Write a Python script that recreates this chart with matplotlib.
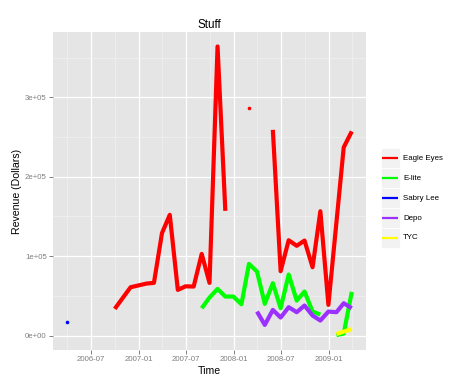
import matplotlib
matplotlib.use("Agg")
import matplotlib.pyplot as plt
import matplotlib.dates as mdates
from matplotlib.lines import Line2D
from matplotlib.patches import Rectangle
import numpy as np
import pandas as pd

plt.rcParams['font.family'] = ['Liberation Sans', 'DejaVu Sans']

# Data: month and revenue per series (None = missing month, breaks the line)
eagle_months = ["2006-09", "2006-11", "2007-01", "2007-02", "2007-03", "2007-04",
                "2007-05", "2007-06", "2007-07", "2007-08", "2007-09", "2007-10",
                "2007-11", "2007-12", "2008-02", "2008-03", "2008-05", "2008-06",
                "2008-07", "2008-08", "2008-09", "2008-10", "2008-11", "2008-12",
                "2009-02", "2009-03"]
eagle_values = [33600, 60800, 65500, 66300, 129000, 152000,
                57500, 62000, 61700, 102800, 66300, 364000,
                157000, None, 286000, None, 259000, 81000,
                120000, 113000, 119600, 86000, 156500, 38600,
                237000, 257000]

elite_months = ["2007-08", "2007-09", "2007-10", "2007-11", "2007-12", "2008-01",
                "2008-02", "2008-03", "2008-04", "2008-05", "2008-06", "2008-07",
                "2008-08", "2008-09", "2008-10", "2008-11", "2008-12", "2009-01",
                "2009-02", "2009-03"]
elite_values = [34400, 47800, 58700, 49100, 49100, 39400,
                90200, 80600, 39900, 65900, 34400, 76800,
                44000, 55400, 30200, 26400, None, 500,
                2500, 55000]

sabry_months = ["2006-03"]
sabry_values = [16900]

depo_months = ["2008-03", "2008-04", "2008-05", "2008-06", "2008-07", "2008-08",
               "2008-09", "2008-10", "2008-11", "2008-12", "2009-01", "2009-02",
               "2009-03"]
depo_values = [30200, 13400, 32300, 22700, 35700, 29400,
               37800, 25200, 18900, 30200, 29400, 40700, 34400]

tyc_months = ["2009-01", "2009-02", "2009-03"]
tyc_values = [2000, 5000, 8000]

names = ["Eagle Eyes", "E-lite", "Sabry Lee", "Depo", "TYC"]
month_lists = [eagle_months, elite_months, sabry_months, depo_months, tyc_months]
value_lists = [eagle_values, elite_values, sabry_values, depo_values, tyc_values]
colors = ["#FF0000", "#00FF00", "#0000FF", "#9B30FF", "#FFFF00"]

fig = plt.figure(figsize=(4.74, 3.87), dpi=100)
ax = fig.add_axes([53/474, 1-350/387, (366-53)/474, (350-32)/387])
ax.set_facecolor("#E5E5E5")

lw = 3.0
allx = []
for name, ms, vs, c in zip(names, month_lists, value_lists, colors):
    dates = [pd.Timestamp(m) + pd.offsets.MonthEnd(0) for m in ms]
    x = mdates.date2num([d.to_pydatetime() for d in dates])
    v = np.array([np.nan if val is None else val for val in vs], dtype=float)
    allx.extend(x)
    ax.plot(x, v, color=c, lw=lw, solid_capstyle='butt', solid_joinstyle='round', zorder=3)
    m = len(v)
    for i in range(m):
        if not np.isnan(v[i]):
            prev_nan = i == 0 or np.isnan(v[i-1])
            next_nan = i == m-1 or np.isnan(v[i+1])
            if prev_nan and next_nan:
                ax.plot(x[i], v[i], 'o', color=c, ms=2.6, mec='none', zorder=3)

# limits (5% expansion)
xmin, xmax = min(allx), max(allx)
pad = 0.05 * (xmax - xmin)
ax.set_xlim(xmin - pad, xmax + pad)
ymax = 364000
ax.set_ylim(-0.05 * ymax, ymax * 1.05)

ax.xaxis.set_major_locator(mdates.MonthLocator(bymonth=[1, 7]))
ax.xaxis.set_major_formatter(mdates.DateFormatter("%Y-%m"))
ax.xaxis.set_minor_locator(mdates.MonthLocator(bymonth=[4, 10]))
ax.set_yticks([0, 1e5, 2e5, 3e5])
ax.set_yticklabels(["0e+00", "1e+05", "2e+05", "3e+05"])
ax.set_yticks([5e4, 1.5e5, 2.5e5, 3.5e5], minor=True)

ax.grid(True, which='major', color='white', lw=0.9, zorder=0)
ax.grid(True, which='minor', color='#F2F2F2', lw=0.45, zorder=0)
ax.set_axisbelow(True)
for s in ax.spines.values():
    s.set_visible(False)
ax.tick_params(which='major', length=3, width=0.7, color='#7F7F7F', labelcolor='#7F7F7F', labelsize=5.6, pad=1.5)
ax.tick_params(which='minor', length=0)

ax.set_title("Stuff", fontsize=8.4, pad=3)
ax.set_xlabel("Time", fontsize=7.6, labelpad=2)
ax.set_ylabel("Revenue (Dollars)", fontsize=7.6, labelpad=2)

# Manual legend (ggplot style keys)
W, H = 474, 387
row_y = [158.3, 178.3, 198.3, 218.3, 238.0]
for name, c, yy in zip(names, colors, row_y):
    fig.patches.append(Rectangle(((380.5)/W, 1-(yy+10)/H), 19/W, 20/H,
                                 transform=fig.transFigure, facecolor='#F2F2F2',
                                 edgecolor='white', lw=0.6, zorder=1))
    fig.lines.append(Line2D([382/W, 398/W], [1-yy/H, 1-yy/H], transform=fig.transFigure,
                            color=c, lw=1.6, solid_capstyle='butt', zorder=2))
    fig.text(403/W, 1-yy/H, name, fontsize=5.7, va='center', ha='left', color='black')

fig.savefig("out.png", dpi=100)
